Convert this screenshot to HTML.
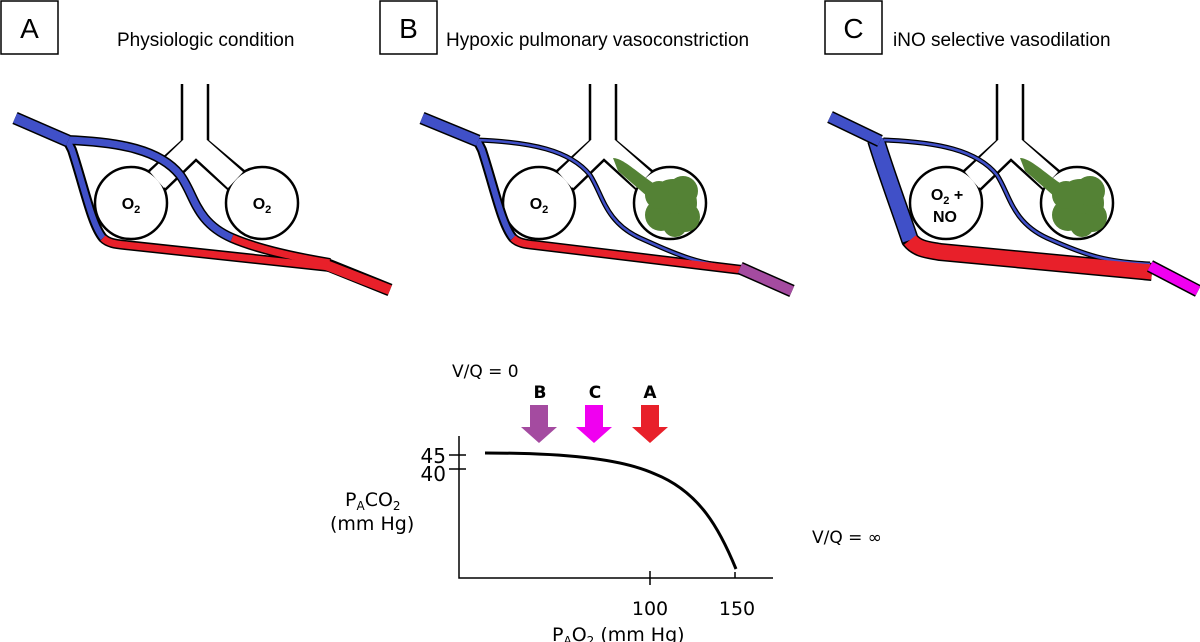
<!DOCTYPE html>
<html><head><meta charset="utf-8"><style>
html,body{margin:0;padding:0;background:#fff;}
svg{display:block;font-family:"Liberation Sans","DejaVu Sans",sans-serif;}
.t{font-family:"Liberation Sans",sans-serif;font-size:19px;fill:#000;}
.d{font-family:"DejaVu Sans",sans-serif;}
</style></head><body>
<svg width="1200" height="642" viewBox="0 0 1200 642" xmlns="http://www.w3.org/2000/svg">
<defs>
  <g id="lung">
    <path d="M182,84 V141 L148,172 L165,190 L196,160 L228,189 L245,172 L208,141 V84" fill="#fff" stroke="#000" stroke-width="2.5" stroke-linejoin="miter"/>
    <circle cx="131" cy="203" r="36" fill="#fff" stroke="#000" stroke-width="2.5"/>
    <circle cx="262" cy="203" r="36" fill="#fff" stroke="#000" stroke-width="2.5"/>
    <path d="M183,140 L150,172 L164,188 L196,158 L228,188 L243,172 L207,140 Z" fill="#fff"/>
  </g>
  <g id="blob" fill="#548235">
    <path d="M-60,-45 C-50,-45 -35,-30 -20,-20 L-10,-10 L-18,0 L-55,-32 Z"/>
    <circle cx="0" cy="0" r="24"/>
    <circle cx="-12" cy="12" r="16"/>
    <circle cx="12" cy="14" r="15"/>
    <circle cx="-14" cy="-8" r="14"/>
    <circle cx="10" cy="-12" r="15"/>
    <circle cx="2" cy="22" r="12"/>
  </g>
</defs>

<rect x="1" y="1" width="57" height="53" fill="#fff" stroke="#000" stroke-width="1.5"/>
<text x="29.5" y="38" text-anchor="middle" style="font-size:28px">A</text>
<text x="117" y="46" class="t">Physiologic condition</text>
<rect x="380" y="1" width="57" height="53" fill="#fff" stroke="#000" stroke-width="1.5"/>
<text x="408.5" y="38" text-anchor="middle" style="font-size:28px">B</text>
<text x="446" y="46" class="t">Hypoxic pulmonary vasoconstriction</text>
<rect x="825" y="1" width="57" height="53" fill="#fff" stroke="#000" stroke-width="1.5"/>
<text x="853.5" y="38" text-anchor="middle" style="font-size:28px">C</text>
<text x="893" y="46" class="t">iNO selective vasodilation</text>

<!-- PANEL A -->
<use href="#lung"/>
<g fill="none" stroke-linejoin="round">
  <path d="M67,140 C120,142 160,150 180,175 C195,195 195,222 232,238 C260,250 300,258 330,263" stroke="#000" stroke-width="10"/>
  <path d="M67,140 L72,150 C85,190 92,225 103,238 C108,243 115,244 125,245 L330,267" stroke="#000" stroke-width="10"/>
  <path d="M67,140 C120,142 160,150 180,175 C195,195 195,222 232,238" stroke="#4050c8" stroke-width="7"/>
  <path d="M232,238 C260,250 300,258 330,263" stroke="#e8202a" stroke-width="7"/>
  <path d="M67,140 L72,150 C85,190 92,225 103,238" stroke="#4050c8" stroke-width="6"/>
  <path d="M103,238 C108,243 115,244 125,245 L330,267" stroke="#e8202a" stroke-width="7"/>
  <path d="M15,118 L68,141" stroke="#000" stroke-width="13"/>
  <path d="M15,118 L68,141" stroke="#4050c8" stroke-width="10"/>
  <path d="M328,265 L390,290" stroke="#000" stroke-width="13"/>
  <path d="M326,265 L390,290" stroke="#e8202a" stroke-width="10"/>
</g>
<text x="131" y="209" text-anchor="middle" style="font-size:16px;font-weight:bold">O<tspan dy="4" style="font-size:11px">2</tspan></text>
<text x="262" y="209" text-anchor="middle" style="font-size:16px;font-weight:bold">O<tspan dy="4" style="font-size:11px">2</tspan></text>

<!-- PANEL B -->
<use href="#lung" x="408"/>
<use href="#blob" x="673" y="203"/>
<g fill="none" stroke-linejoin="round">
  <path d="M477,140 C530,142 570,150 590,175 C603,195 605,222 640,238 C680,256 700,265 742,268" stroke="#000" stroke-width="5"/>
  <path d="M477,140 L482,150 C495,190 502,225 513,238 C518,243 525,244 535,245 L742,270" stroke="#000" stroke-width="10"/>
  <path d="M477,140 C530,142 570,150 590,175 C603,195 605,222 640,238 C680,256 700,265 742,268" stroke="#4050c8" stroke-width="2.5"/>
  <path d="M477,140 L482,150 C495,190 502,225 513,238" stroke="#4050c8" stroke-width="6"/>
  <path d="M513,238 C518,243 525,244 535,245 L742,270" stroke="#e8202a" stroke-width="7"/>
  <path d="M422,118 L478,141" stroke="#000" stroke-width="13"/>
  <path d="M422,118 L478,141" stroke="#4050c8" stroke-width="10"/>
  <path d="M740,268 L792,291" stroke="#000" stroke-width="13"/>
  <path d="M740,268 L792,291" stroke="#a44ba0" stroke-width="10"/>
</g>
<text x="539" y="209" text-anchor="middle" style="font-size:16px;font-weight:bold">O<tspan dy="4" style="font-size:11px">2</tspan></text>

<!-- PANEL C -->
<use href="#lung" x="815"/>
<use href="#blob" x="1080" y="203"/>
<g fill="none" stroke-linejoin="round">
  <path d="M884,140 C937,142 977,150 997,175 C1010,195 1012,222 1047,238 C1087,256 1107,262 1150,264" stroke="#000" stroke-width="5"/>
  <path d="M876,140 C885,170 900,210 910,240 C918,250 930,250 940,252 L1152,272" stroke="#000" stroke-width="18"/>
  <path d="M884,140 C937,142 977,150 997,175 C1010,195 1012,222 1047,238 C1087,256 1107,262 1150,264" stroke="#4050c8" stroke-width="2.5"/>
  <path d="M876,140 C885,170 900,210 910,240" stroke="#4050c8" stroke-width="15"/>
  <path d="M910,240 C918,250 930,250 940,252 L1152,272" stroke="#e8202a" stroke-width="15"/>
  <path d="M830,117 L880,141" stroke="#000" stroke-width="13"/>
  <path d="M830,117 L880,141" stroke="#4050c8" stroke-width="10"/>
  <path d="M1150,266 L1198,291" stroke="#000" stroke-width="13"/>
  <path d="M1150,266 L1198,291" stroke="#f000f0" stroke-width="10"/>
</g>
<text x="947" y="200" text-anchor="middle" style="font-size:16px;font-weight:bold">O<tspan dy="4" style="font-size:11px">2</tspan><tspan dy="-4"> +</tspan></text>
<text x="945" y="222" text-anchor="middle" style="font-size:16px;font-weight:bold">NO</text>

<!-- GRAPH -->
<text x="452" y="377" class="d" style="font-size:17px">V/Q = 0</text>
<text x="812" y="543" class="d" style="font-size:17px">V/Q = ∞</text>
<g style="font-size:17px;font-weight:bold" text-anchor="middle" class="d">
  <text x="540" y="398">B</text><text x="595" y="398">C</text><text x="650" y="398">A</text>
</g>
<path d="M530,405 h18 v22 h9 l-18,16 l-18,-16 h9 z" fill="#a44ba0"/>
<path d="M585,405 h18 v22 h9 l-18,16 l-18,-16 h9 z" fill="#f000f0"/>
<path d="M641,405 h18 v22 h9 l-18,16 l-18,-16 h9 z" fill="#e8202a"/>
<path d="M459,436 V578 H773" fill="none" stroke="#000" stroke-width="1.5"/>
<path d="M449,455 H466 M449,469 H466 M650,571 V585 M735,572 V578" fill="none" stroke="#000" stroke-width="1.5"/>
<text x="446" y="463" text-anchor="end" class="d" style="font-size:20px">45</text>
<text x="446" y="481" text-anchor="end" class="d" style="font-size:20px">40</text>
<path d="M485,453 C560,453 620,458 655,474 C700,492 720,530 736,569" fill="none" stroke="#000" stroke-width="3"/>
<text x="650" y="615" text-anchor="middle" class="d" style="font-size:19px">100</text>
<text x="737" y="615" text-anchor="middle" class="d" style="font-size:19px">150</text>
<text x="552" y="641" class="d" style="font-size:19px">P<tspan dy="4" style="font-size:12px">A</tspan><tspan dy="-4">O</tspan><tspan dy="4" style="font-size:12px">2</tspan><tspan dy="-4"> (mm Hg)</tspan></text>
<text x="345" y="506" class="d" style="font-size:19px">P<tspan dy="4" style="font-size:12px">A</tspan><tspan dy="-4">CO</tspan><tspan dy="4" style="font-size:12px">2</tspan></text>
<text x="330" y="530" class="d" style="font-size:19px">(mm Hg)</text>
</svg>
</body></html>
